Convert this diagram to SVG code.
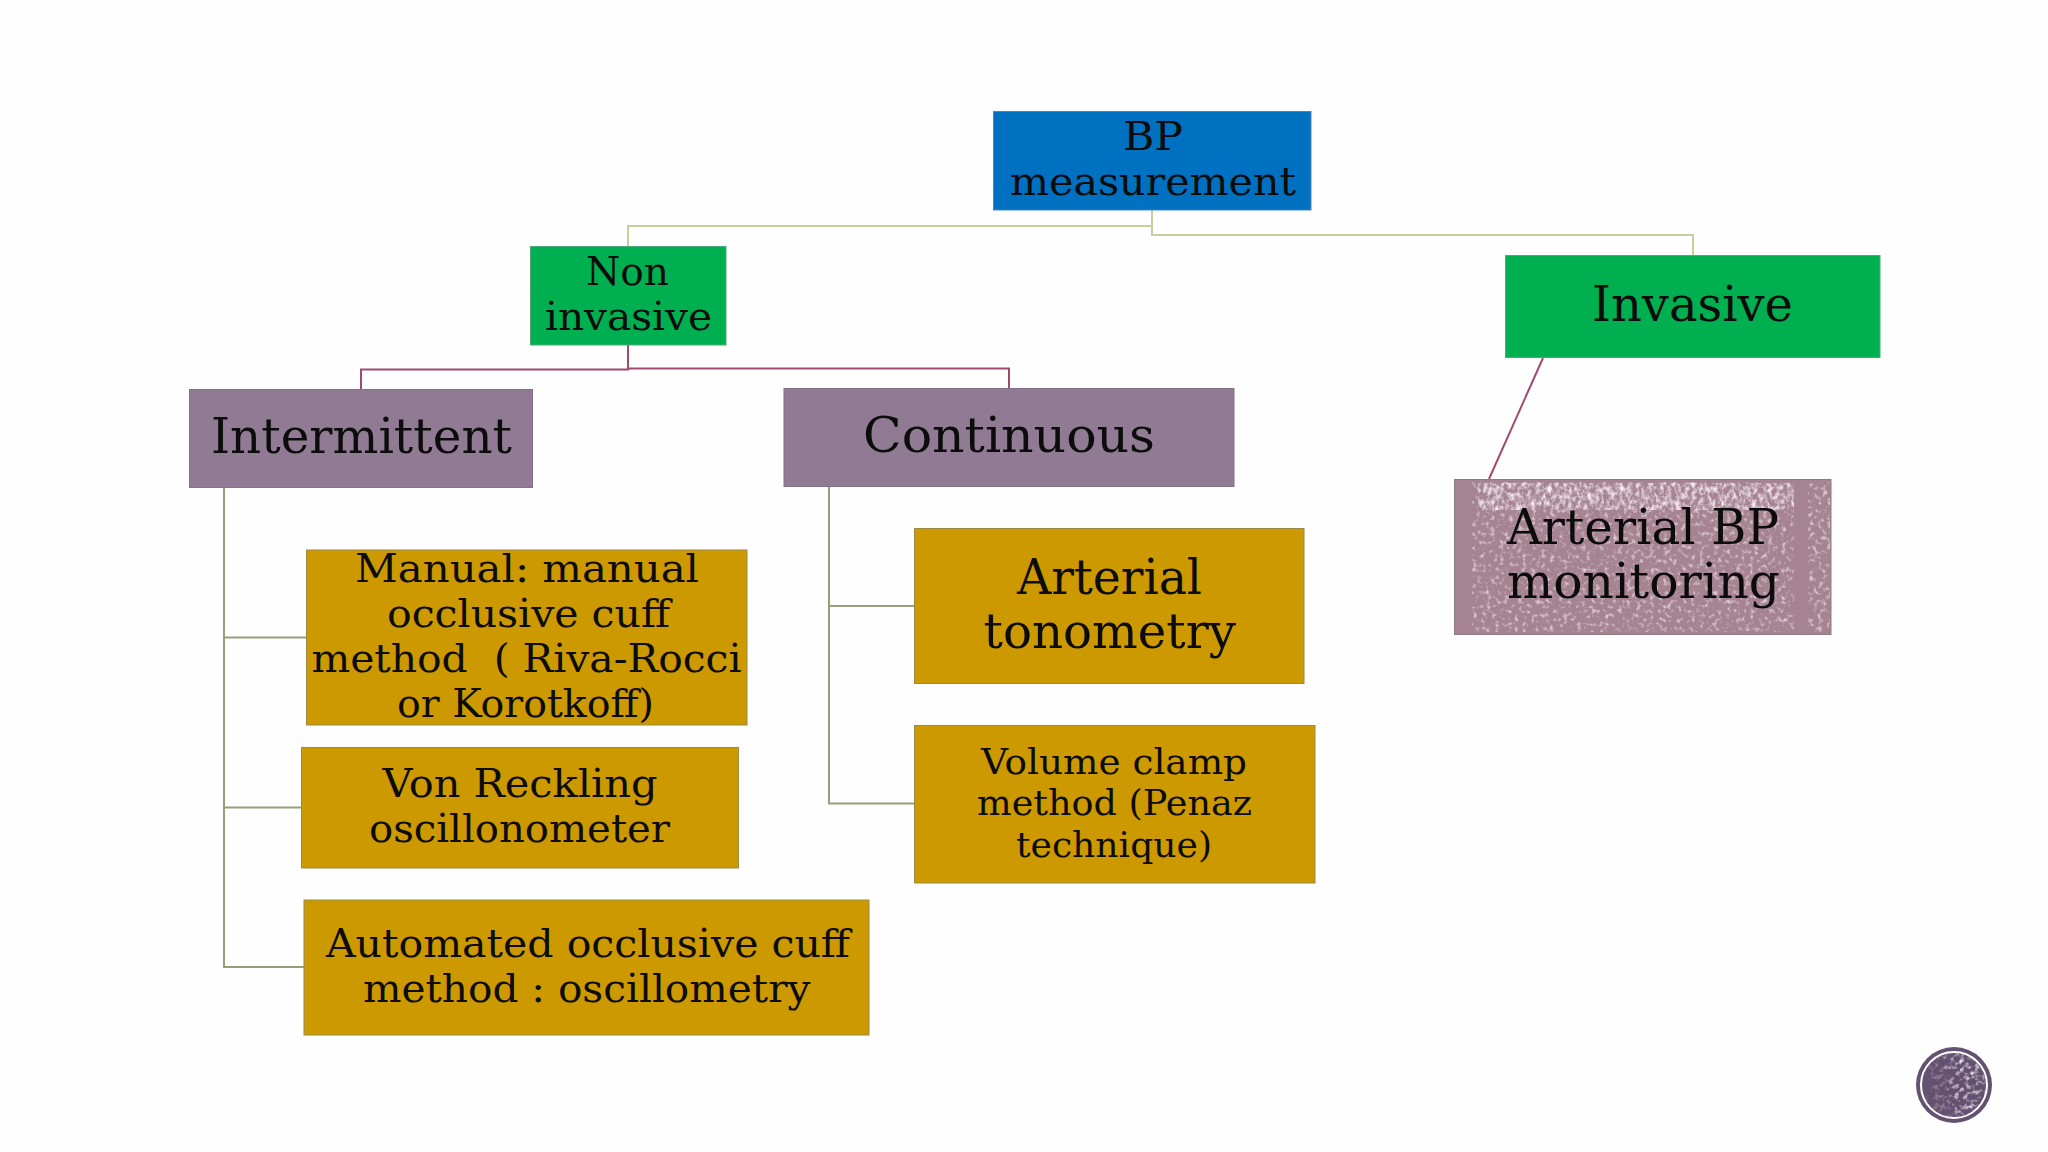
<svg xmlns="http://www.w3.org/2000/svg" width="2048" height="1152" viewBox="0 0 2048 1152">
<style>
text{font-family:"DejaVu Serif","Liberation Serif",serif;fill:#0c0c0c}
.s{font-size:36px}.m{font-size:40px}.l{font-size:48px}
.box{stroke-width:1}
.blue{fill:#0070c0;stroke:#4b86b8}
.green{fill:#00b050;stroke:#4fa878}
.mauve{fill:#917a93;stroke:#82708a}
.gold{fill:#cc9900;stroke:#9a8a45}
.art{fill:#a58391;stroke:#8f7a88}
.cn{fill:none}
.olive{stroke:#96a078;stroke-width:2}
.pale{stroke:#c6cf9e;stroke-width:2}
.rose{stroke:#a04a70;stroke-width:2}
</style>
<defs>
<filter id="speck" x="0" y="0" width="100%" height="100%">
<feTurbulence type="fractalNoise" baseFrequency="0.25 0.15" numOctaves="3" seed="7"/>
<feColorMatrix type="matrix" values="0 0 0 0 1 0 0 0 0 0.93 0 0 0 0 0.96 2.4 0 0 0 -1"/>
<feGaussianBlur stdDeviation="0.6"/>
</filter>
<filter id="speck2" x="0" y="0" width="100%" height="100%">
<feTurbulence type="fractalNoise" baseFrequency="0.22" numOctaves="2" seed="3"/>
<feColorMatrix type="matrix" values="0 0 0 0 0.88 0 0 0 0 0.78 0 0 0 0 0.86 2.4 0 0 0 -1.25"/>
<feGaussianBlur stdDeviation="0.6"/>
</filter>
<filter id="speck3" x="0" y="0" width="100%" height="100%">
<feTurbulence type="fractalNoise" baseFrequency="0.2" numOctaves="2" seed="11"/>
<feColorMatrix type="matrix" values="0 0 0 0 0.85 0 0 0 0 0.78 0 0 0 0 0.87 3 0 0 0 -1.45"/>
<feGaussianBlur stdDeviation="0.7"/>
</filter>
<linearGradient id="fade" x1="0" x2="1" y1="0" y2="0">
<stop offset="0" stop-color="#000"/><stop offset="0.6" stop-color="#fff"/>
</linearGradient>
<mask id="circ" maskUnits="userSpaceOnUse" x="1900" y="1030" width="120" height="120">
<circle cx="1954" cy="1085" r="32" fill="url(#fade)"/>
</mask>
</defs>
<rect width="2048" height="1152" fill="#fefefe"/>
<g id="connectors" class="cn">
<path class="pale" d="M1152 210V226H628V246"/>
<path class="pale" d="M1152 226V235H1693V255"/>
<path class="rose" d="M628 345V369.500H361V389"/>
<path class="rose" d="M628 368.500H1009V388"/>
<path class="rose" d="M1543 358L1489 479"/>
<path class="olive" d="M224 488V967H304M224 637.500H306M224 807.500H301"/>
<path class="olive" d="M829 487V803.500H914M829 606H914"/>
</g>
<g id="bp"><rect class="box blue" x="993.500" y="111.500" width="317.500" height="98.500"/>
<text class="m" x="1123" y="150" textLength="60" lengthAdjust="spacingAndGlyphs">BP</text>
<text class="m" x="1010" y="195" textLength="286" lengthAdjust="spacingAndGlyphs">measurement</text></g>
<g id="noninvasive"><rect class="box green" x="530.500" y="246.500" width="195.500" height="98.500"/>
<text class="m" x="586" y="285" textLength="83" lengthAdjust="spacingAndGlyphs">Non</text>
<text class="m" x="545" y="330" textLength="167" lengthAdjust="spacingAndGlyphs">invasive</text></g>
<g id="invasive"><rect class="box green" x="1505.500" y="255.500" width="374.500" height="102"/>
<text class="l" x="1592" y="321" textLength="201" lengthAdjust="spacingAndGlyphs">Invasive</text></g>
<g id="intermittent"><rect class="box mauve" x="189.500" y="389.500" width="343" height="98"/>
<text class="l" x="211" y="453" textLength="301" lengthAdjust="spacingAndGlyphs">Intermittent</text></g>
<g id="continuous"><rect class="box mauve" x="784" y="388.500" width="450" height="98"/>
<text class="l" x="863" y="452" textLength="292" lengthAdjust="spacingAndGlyphs">Continuous</text></g>
<g id="arterialbp"><rect class="box art" x="1454.500" y="479.500" width="376.500" height="155"/>
<rect x="1472" y="482" width="322" height="150" filter="url(#speck2)"/>
<rect x="1478" y="483" width="316" height="27" filter="url(#speck)"/>
<rect x="1808" y="482" width="22" height="150" filter="url(#speck2)"/>
<text class="l" x="1507" y="544" textLength="272" lengthAdjust="spacingAndGlyphs">Arterial BP</text>
<text class="l" x="1507" y="598" textLength="273" lengthAdjust="spacingAndGlyphs">monitoring</text></g>
<g id="manual"><rect class="box gold" x="306.500" y="550" width="440.500" height="175"/>
<text class="m" x="355" y="582" textLength="344" lengthAdjust="spacingAndGlyphs">Manual: manual</text>
<text class="m" x="387" y="627" textLength="283" lengthAdjust="spacingAndGlyphs">occlusive cuff</text>
<text class="m" x="311.500" y="672" textLength="430" lengthAdjust="spacingAndGlyphs" xml:space="preserve">method  ( Riva-Rocci</text>
<text class="m" x="397" y="717" textLength="257" lengthAdjust="spacingAndGlyphs">or Korotkoff)</text></g>
<g id="vonreckling"><rect class="box gold" x="301.500" y="747.500" width="437" height="120.500"/>
<text class="m" x="382.500" y="797" textLength="275" lengthAdjust="spacingAndGlyphs">Von Reckling</text>
<text class="m" x="369" y="842" textLength="301" lengthAdjust="spacingAndGlyphs">oscillonometer</text></g>
<g id="automated"><rect class="box gold" x="304" y="900" width="565" height="135"/>
<text class="m" x="326" y="957" textLength="524" lengthAdjust="spacingAndGlyphs">Automated occlusive cuff</text>
<text class="m" x="363" y="1002" textLength="447.500" lengthAdjust="spacingAndGlyphs">method : oscillometry</text></g>
<g id="tonometry"><rect class="box gold" x="914.500" y="528.500" width="389.500" height="155"/>
<text class="l" x="1017" y="594" textLength="185" lengthAdjust="spacingAndGlyphs">Arterial</text>
<text class="l" x="983.500" y="648" textLength="252.500" lengthAdjust="spacingAndGlyphs">tonometry</text></g>
<g id="volumeclamp"><rect class="box gold" x="914.500" y="725.500" width="400.500" height="157.500"/>
<text class="s" x="981" y="774" textLength="266" lengthAdjust="spacingAndGlyphs">Volume clamp</text>
<text class="s" x="977" y="815" textLength="275" lengthAdjust="spacingAndGlyphs">method (Penaz</text>
<text class="s" x="1016" y="857" textLength="196" lengthAdjust="spacingAndGlyphs">technique)</text></g>
<circle cx="1954" cy="1085" r="38" fill="#64506f"/>
<g mask="url(#circ)"><rect x="1922" y="1050" width="66" height="70" filter="url(#speck3)"/></g>
<circle cx="1954" cy="1085" r="33" fill="none" stroke="#fff" stroke-width="2"/>
</svg>
